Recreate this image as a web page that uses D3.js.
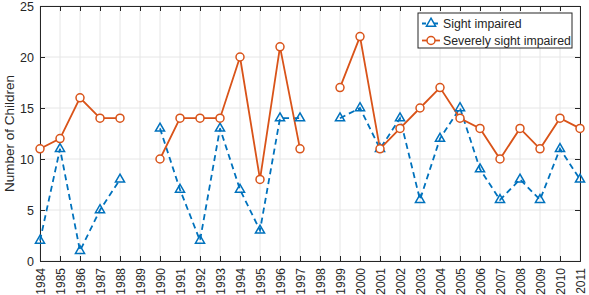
<!DOCTYPE html>
<html>
<head>
<script src="https://d3js.org/d3.v7.min.js"></script>
<style>
  body { margin: 0; background: #fff; }
  text { font-family: "Liberation Sans", Arial, sans-serif; }
</style>
</head>
<body>
<svg id="chart" width="589" height="295"></svg>
<script>
// years along the x axis
const years = d3.range(1984, 2012);
// null = no data that year
const sight = [2, 11, 1, 5, 8, null, 13, 7, 2, 13, 7, 3, 14, 14, null, 14, 15, 11, 14, 6, 12, 15, 9, 6, 8, 6, 11, 8];
const severe = [11, 12, 16, 14, 14, null, 10, 14, 14, 14, 20, 8, 21, 11, null, 17, 22, 11, 13, 15, 17, 14, 13, 10, 13, 11, 14, 13];
const yTicks = [0, 5, 10, 15, 20, 25];
const seriesNames = ["Sight impaired", "Severely sight impaired"];

const svg = d3.select("#chart");
const margin = {left: 40, right: 9, top: 6, bottom: 34};
const W = 589, H = 295;

const x = d3.scaleLinear().domain([1984, 2011]).range([margin.left, W - margin.right]);
const y = d3.scaleLinear().domain([0, 25]).range([H - margin.bottom, margin.top]);

const axisColor = "#262626";
const gridColor = "#e6e6e6";

// grid
svg.append("g").selectAll("line").data(years).join("line")
  .attr("x1", d => x(d)).attr("x2", d => x(d))
  .attr("y1", y(0)).attr("y2", y(25))
  .attr("stroke", gridColor).attr("stroke-width", 1);
svg.append("g").selectAll("line").data(yTicks).join("line")
  .attr("x1", x(1984)).attr("x2", x(2011))
  .attr("y1", d => y(d)).attr("y2", d => y(d))
  .attr("stroke", gridColor).attr("stroke-width", 1);

// axes
const xAxis = svg.append("g").attr("transform", `translate(0,${y(0)})`)
  .call(d3.axisBottom(x).tickValues(years).tickFormat(d3.format("d")).tickSize(-5));
xAxis.selectAll("text")
  .attr("transform", "rotate(-90)")
  .attr("text-anchor", "end")
  .attr("x", -7).attr("y", 0).attr("dy", "0.35em")
  .style("font-size", "12px");

const yAxis = svg.append("g").attr("transform", `translate(${x(1984)},0)`)
  .call(d3.axisLeft(y).tickValues(yTicks).tickSize(-5).tickPadding(6));
yAxis.selectAll("text").style("font-size", "12.5px");

// top and right box with inner ticks
svg.append("g").attr("transform", `translate(0,${y(25)})`)
  .call(d3.axisTop(x).tickValues(years).tickSize(-5).tickFormat(""));
svg.append("g").attr("transform", `translate(${x(2011)},0)`)
  .call(d3.axisRight(y).tickValues(yTicks).tickSize(-5).tickFormat(""));

svg.selectAll(".domain").attr("stroke", axisColor);
svg.selectAll(".tick line").attr("stroke", axisColor);
svg.selectAll(".tick text").attr("fill", axisColor);

// y label
svg.append("text")
  .attr("transform", `translate(14,${(y(0) + y(25)) / 2}) rotate(-90)`)
  .attr("text-anchor", "middle")
  .attr("fill", axisColor)
  .style("font-size", "13.5px")
  .text("Number of Children");

const blue = "#0072BD", orange = "#D95319";
const line = d3.line()
  .defined(d => d[1] != null)
  .x(d => x(d[0])).y(d => y(d[1]));

const sightPts = years.map((yr, i) => [yr, sight[i]]);
const severePts = years.map((yr, i) => [yr, severe[i]]);

svg.append("path").datum(sightPts).attr("d", line)
  .attr("fill", "none").attr("stroke", blue).attr("stroke-width", 1.8)
  .attr("stroke-dasharray", "6,4");
svg.append("path").datum(severePts).attr("d", line)
  .attr("fill", "none").attr("stroke", orange).attr("stroke-width", 1.8);

const tri = d3.symbol().type(d3.symbolTriangle).size(36);

svg.append("g").selectAll("path").data(sightPts.filter(d => d[1] != null)).join("path")
  .attr("d", tri)
  .attr("transform", d => `translate(${x(d[0])},${y(d[1])})`)
  .attr("fill", "none").attr("stroke", blue).attr("stroke-width", 1.5);

svg.append("g").selectAll("circle").data(severePts.filter(d => d[1] != null)).join("circle")
  .attr("cx", d => x(d[0])).attr("cy", d => y(d[1])).attr("r", 4)
  .attr("fill", "white").attr("stroke", orange).attr("stroke-width", 1.5);

// legend
const lg = svg.append("g").attr("transform", "translate(418,13)");
lg.append("rect").attr("width", 154).attr("height", 35)
  .attr("fill", "white").attr("stroke", axisColor).attr("stroke-width", 1);
[0, 1].forEach(i => {
  const cy = 10.5 + i * 17;
  const col = i === 0 ? blue : orange;
  lg.append("line").attr("x1", 4).attr("x2", 22).attr("y1", cy).attr("y2", cy)
    .attr("stroke", col).attr("stroke-width", 1.8)
    .attr("stroke-dasharray", i === 0 ? "4,2" : null);
  if (i === 0) {
    lg.append("path").attr("d", tri).attr("transform", `translate(13,${cy})`)
      .attr("fill", "white").attr("stroke", blue).attr("stroke-width", 1.5);
  } else {
    lg.append("circle").attr("cx", 13).attr("cy", cy).attr("r", 4)
      .attr("fill", "white").attr("stroke", orange).attr("stroke-width", 1.5);
  }
  lg.append("text").attr("x", 25).attr("y", cy).attr("dy", "0.35em")
    .attr("fill", axisColor).style("font-size", "12.3px")
    .text(seriesNames[i]);
});
</script>
</body>
</html>
